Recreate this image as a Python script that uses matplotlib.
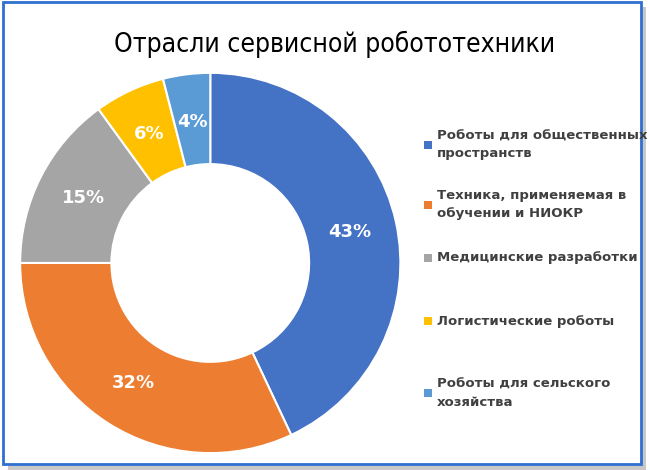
import matplotlib.pyplot as plt
from matplotlib.patches import Rectangle

labels = ["Роботы для общественных\nпространств",
          "Техника, применяемая в\nобучении и НИОКР",
          "Медицинские разработки",
          "Логистические роботы",
          "Роботы для сельского\nхозяйства"]
shares = [43, 32, 15, 6, 4]
colors = ["#4472C4", "#ED7D31", "#A5A5A5", "#FFC000", "#5B9BD5"]

fig = plt.figure(figsize=(6.5, 4.7), dpi=100)

# frame with shadow
fig.patches.append(Rectangle((0.012, 0.0), 0.982, 0.985, transform=fig.transFigure,
                             facecolor="#c8c8c8", edgecolor="none", zorder=-2))
fig.patches.append(Rectangle((0.004, 0.012), 0.982, 0.983, transform=fig.transFigure,
                             facecolor="white", edgecolor="#2F6FD0", lw=2, zorder=-1))

fig.text(0.515, 0.905, "Отрасли сервисной робототехники", ha="center", va="center",
         fontsize=19, family="DejaVu Sans", fontstretch="condensed", color="black")

ax = fig.add_axes([0.031, 0.036, 0.585, 0.809])
wedges, texts, autotexts = ax.pie(
    shares, colors=colors, startangle=90, counterclock=False,
    autopct="%d%%", pctdistance=0.75,
    wedgeprops=dict(width=0.48, edgecolor="white", linewidth=1.5),
    textprops=dict(color="white", fontsize=13, fontweight="bold"))
ax.set_xlim(-1, 1)
ax.set_ylim(-1, 1)
ax.set_aspect("equal")

ys = [145, 205, 258, 321, 393]
for lab, c, y in zip(labels, colors, ys):
    fy = 1 - y / 470
    fig.patches.append(Rectangle((424 / 650, fy - 0.009), 0.012, 0.017,
                                 transform=fig.transFigure, facecolor=c, edgecolor="none"))
    fig.text(437 / 650, fy, lab, ha="left", va="center", fontsize=9.5,
             color="#404040", linespacing=1.5, fontweight="semibold")

fig.savefig("out.png", dpi=100)
